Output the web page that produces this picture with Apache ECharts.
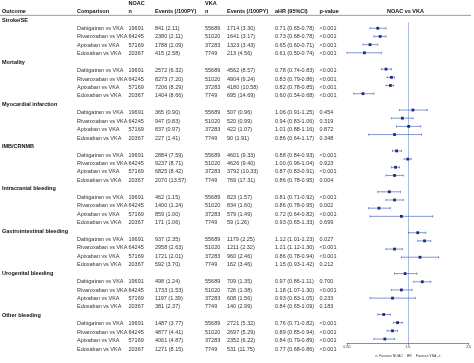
<!DOCTYPE html>
<html><head><meta charset="utf-8">
<script src="https://cdn.jsdelivr.net/npm/echarts@6/dist/echarts.min.js"></script>
<style>html,body{margin:0;padding:0;background:#fff}#c{width:474px;height:363px}</style>
</head><body><div id="c"></div>
<script>
const outcomes = ['Stroke/SE','Mortality','Myocardial infarction','IMB/CRNMB','Intracranial bleeding','Gastrointestinal bleeding','Urogenital bleeding','Other bleeding'];
const comparisons = ['Dabigatran vs VKA','Rivaroxaban vs VKA','Apixaban vs VKA','Edoxaban vs VKA'];
const noacN = [19691, 64245, 57169, 20367];
const vkaN = [55689, 51020, 37283, 7749];
const noacEvents = [
  ['841 (2.11)','2380 (2.11)','1788 (2.09)','415 (2.58)'],
  ['2572 (6.32)','8273 (7.20)','7206 (8.29)','1404 (8.66)'],
  ['365 (0.90)','947 (0.83)','837 (0.97)','227 (1.41)'],
  ['2884 (7.59)','9237 (8.71)','6825 (8.42)','2070 (13.57)'],
  ['462 (1.15)','1400 (1.24)','859 (1.00)','171 (1.06)'],
  ['937 (2.35)','2958 (2.63)','1721 (2.01)','592 (3.70)'],
  ['498 (1.24)','1733 (1.53)','1197 (1.39)','381 (2.37)'],
  ['1487 (3.77)','4877 (4.41)','4061 (4.87)','1271 (8.15)']
];
const vkaEvents = [
  ['1714 (3.30)','1641 (3.17)','1323 (3.43)','213 (4.56)'],
  ['4562 (8.57)','4904 (9.24)','4180 (10.58)','695 (14.69)'],
  ['507 (0.96)','520 (0.99)','422 (1.07)','90 (1.91)'],
  ['4601 (9.33)','4626 (9.40)','3792 (10.33)','769 (17.31)'],
  ['823 (1.57)','834 (1.60)','579 (1.49)','59 (1.26)'],
  ['1179 (2.25)','1211 (2.32)','960 (2.46)','162 (3.46)'],
  ['709 (1.35)','726 (1.38)','608 (1.56)','140 (2.99)'],
  ['2721 (5.32)','2697 (5.29)','2352 (6.22)','531 (11.75)']
];
const hr = [
  [0.71,0.73,0.65,0.61],[0.78,0.83,0.82,0.60],[1.06,0.94,1.01,0.86],[0.88,1.00,0.87,0.86],
  [0.81,0.86,0.72,0.93],[1.12,1.21,0.86,1.15],[0.97,1.18,0.93,0.84],[0.76,0.89,0.84,0.77]
];
const hrLo = [
  [0.65,0.68,0.60,0.50],[0.74,0.79,0.78,0.54],[0.91,0.83,0.88,0.64],[0.84,0.96,0.83,0.78],
  [0.71,0.78,0.64,0.65],[1.01,1.12,0.78,0.93],[0.86,1.07,0.83,0.65],[0.71,0.85,0.79,0.68]
];
const hrHi = [
  [0.78,0.78,0.71,0.74],[0.83,0.86,0.85,0.68],[1.25,1.06,1.16,1.17],[0.93,1.04,0.91,0.95],
  [0.92,0.95,0.82,1.33],[1.23,1.30,0.94,1.42],[1.11,1.30,1.05,1.09],[0.82,0.94,0.89,0.86]
];
const pValues = [
  ['<0.001','<0.001','<0.001','<0.001'],['<0.001','<0.001','<0.001','<0.001'],
  ['0.454','0.319','0.872','0.348'],['<0.001','0.923','<0.001','0.004'],
  ['<0.001','0.002','<0.001','0.699'],['0.027','<0.001','<0.001','0.212'],
  ['0.700','<0.001','0.233','0.183'],['<0.001','<0.001','<0.001','<0.001']
];
const headerCols = ['Outcome','Comparison','n','Events (/100PY)','n','Events (/100PY)','aHR (95%CI)','p-value','NOAC vs VKA'];
const groupHeaders = ['NOAC','VKA'];
const xTicks = [0.5, 1, 2];
const xTickLabels = ['0.50','1.0','2.0'];
const refValue = 1;
const axisTitle = '<- Favours NOAC    HR    Favours VKA ->';

// layout
const ROW = 8.44, Y0 = 20;
const colX = [2, 77, 128.5, 155, 205, 227, 275, 319.5, 387];
const FONT = '"Liberation Sans", Arial, sans-serif';
const fs = 5.5;

const textRows = [];
textRows.push({kind:'top', r:-2});
textRows.push({kind:'head', r:-1});
outcomes.forEach((o,g)=>{
  textRows.push({kind:'group', r:g*5, g});
  comparisons.forEach((c,i)=>textRows.push({kind:'row', r:g*5+1+i, g, i}));
});
const forestData = [];
outcomes.forEach((o,g)=>comparisons.forEach((c,i)=>{
  forestData.push([hr[g][i], hrLo[g][i], hrHi[g][i], g*5+1+i]);
}));

const fmtHR = (g,i)=>hr[g][i].toFixed(2)+' ('+hrLo[g][i].toFixed(2)+'-'+hrHi[g][i].toFixed(2)+')';

function txt(x,y,s,bold){
  return {type:'text', style:{x, y, text:s, fill: bold?'#111':'#333', font:(bold?'bold ':'')+fs+'px '+FONT, textVerticalAlign:'middle', textBaseline:'middle'}};
}

const chart = echarts.init(document.getElementById('c'), null, {renderer:'canvas'});
const tMin = -2, tMax = 40;
const fMin = 0.3, fMax = 39.5;
chart.setOption({
  animation:false,
  grid:[
    {left:0, width:474, top:Y0+tMin*ROW, height:(tMax-tMin)*ROW},
    {left:347, width:122, top:Y0+fMin*ROW, height:(fMax-fMin)*ROW}
  ],
  xAxis:[
    {gridIndex:0, type:'value', min:0, max:474, show:false},
    {gridIndex:1, type:'log', logBase:2, min:0.5, max:2,
     axisLine:{lineStyle:{color:'#444', width:0.6}},
     axisTick:{length:2, lineStyle:{color:'#444', width:0.6}},
     splitLine:{show:false},
     axisLabel:{fontSize:3.5, color:'#333', margin:2, fontFamily:FONT,
       formatter:v=>{const k=xTicks.findIndex(t=>Math.abs(t-v)<1e-6);return k>=0?xTickLabels[k]:'';}},
     name:axisTitle, nameLocation:'middle', nameGap:7,
     nameTextStyle:{fontSize:3.5, color:'#333', fontFamily:FONT}}
  ],
  yAxis:[
    {gridIndex:0, type:'value', min:tMin, max:tMax, inverse:true, show:false},
    {gridIndex:1, type:'value', min:fMin, max:fMax, inverse:true, show:false}
  ],
  series:[
    {type:'custom', xAxisIndex:1, yAxisIndex:1, clip:false, z:1, silent:true,
     data:[[refValue, fMin, fMax]],
     renderItem:(params, api)=>{
       const a = api.coord([api.value(0), api.value(1)]);
       const b = api.coord([api.value(0), api.value(2)]);
       const x = Math.round(a[0]) + 0.5;
       return {type:'line', shape:{x1:x,y1:a[1],x2:x,y2:b[1]}, style:{stroke:'#a8bde3', lineWidth:1}};
     }},
    {type:'custom', xAxisIndex:1, yAxisIndex:1, clip:false, z:3,
     data:forestData,
     renderItem:(params, api)=>{
       const p = api.coord([api.value(0), api.value(3)]);
       const a = api.coord([api.value(1), api.value(3)]);
       const b = api.coord([api.value(2), api.value(3)]);
       const ls = {stroke:'#4a68c0', lineWidth:0.7};
       return {type:'group', children:[
         {type:'line', shape:{x1:a[0],y1:a[1],x2:b[0],y2:b[1]}, style:ls},
         {type:'line', shape:{x1:a[0],y1:a[1]-1.1,x2:a[0],y2:a[1]+1.1}, style:ls},
         {type:'line', shape:{x1:b[0],y1:b[1]-1.1,x2:b[0],y2:b[1]+1.1}, style:ls},
         {type:'rect', shape:{x:p[0]-1.4,y:p[1]-1.4,width:2.8,height:2.8}, style:{fill:'#1c2c7a'}}
       ]};
     }},
    {type:'custom', xAxisIndex:0, yAxisIndex:0, clip:false,
     data:textRows.map((t,k)=>[k, t.r]),
     renderItem:(params, api)=>{
       const t = textRows[api.value(0)];
       const y = api.coord([0, t.r])[1];
       const X = c => api.coord([colX[c], t.r])[0];
       const ch = [];
       if (t.kind==='top'){
         ch.push(txt(X(2), y, groupHeaders[0], true));
         ch.push(txt(X(4), y, groupHeaders[1], true));
       } else if (t.kind==='head'){
         headerCols.forEach((h,c)=>ch.push(txt(X(c), y, h, true)));
         const ly = api.coord([0, t.r+0.45])[1];
         ch.push({type:'line', shape:{x1:api.coord([0,0])[0], y1:ly, x2:api.coord([471,0])[0], y2:ly}, style:{stroke:'#555', lineWidth:0.6}});
       } else if (t.kind==='group'){
         ch.push(txt(X(0), y, outcomes[t.g], true));
       } else {
         const g=t.g, i=t.i;
         ch.push(txt(X(1), y, comparisons[i]));
         ch.push(txt(X(2), y, String(noacN[i])));
         ch.push(txt(X(3), y, noacEvents[g][i]));
         ch.push(txt(X(4), y, String(vkaN[i])));
         ch.push(txt(X(5), y, vkaEvents[g][i]));
         ch.push(txt(X(6), y, fmtHR(g,i)));
         ch.push(txt(X(7), y, pValues[g][i]));
       }
       return {type:'group', children:ch};
     }}
  ]
});
</script></body></html>
